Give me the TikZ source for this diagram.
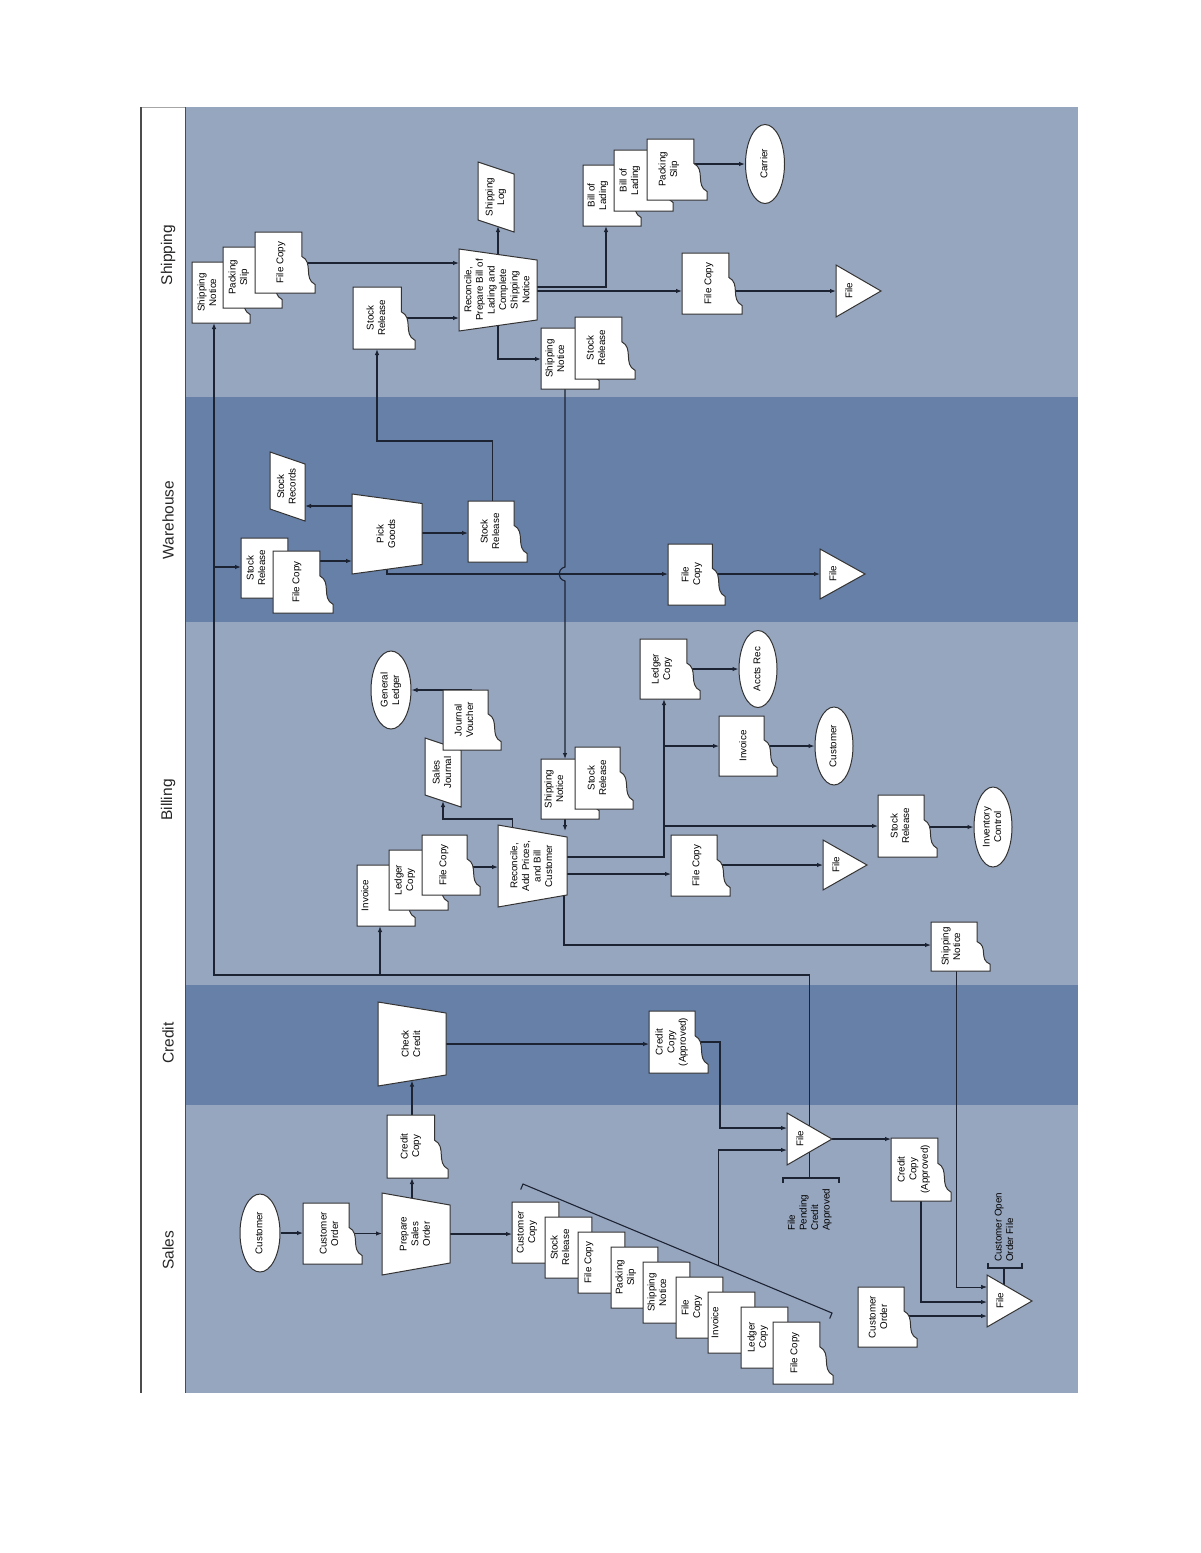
\documentclass[tikz,border=0pt]{standalone}
\usepackage{fontspec}
\setmainfont{Liberation Sans}
\usepackage{graphicx}
\usetikzlibrary{arrows.meta,shapes.geometric,calc}
\pgfdeclarelayer{lanes}\pgfdeclarelayer{conn}\pgfsetlayers{lanes,conn,main}
\definecolor{lightlane}{HTML}{97A6BF}
\definecolor{darklane}{HTML}{6780A7}
\definecolor{linec}{HTML}{1C2333}
\definecolor{edgec}{HTML}{333333}
\tikzset{
 shapeline/.style={draw=edgec, line width=1pt, fill=white},
 box/.style={draw=none, inner sep=0pt, outer sep=0pt, rectangle},
 txt/.style={inner sep=0pt, font=\fontsize{9.8}{11.6}\selectfont, text=black},
 arr/.style={draw=linec, line width=1.1pt, -{Latex[length=6pt,width=4.5pt]}},
 plain/.style={draw=linec, line width=1.1pt},
 thinarr/.style={arr, line width=0.7pt},
 lanelbl/.style={inner sep=0pt, font=\fontsize{15.5}{17}\selectfont, text=black!85},
 term/.style={ellipse, draw=edgec, line width=1pt, fill=white, inner sep=0pt, font=\fontsize{9.8}{11.6}\selectfont},
}
\newcommand\R[1]{\rotatebox{90}{\begin{tabular}{@{}c@{}}#1\end{tabular}}}
\newcommand\RL[1]{\rotatebox{90}{\begin{tabular}{@{}l@{}}#1\end{tabular}}}
% document: name, left, top, width, height, text x offset, text
\newcommand\docsh[7]{%
 \filldraw[shapeline] (#2,#3) -- ({#2+0.78*#4},#3) -- ({#2+0.78*#4},{#3+0.4*#5}) .. controls ({#2+0.98*#4},{#3+0.5*#5}) and ({#2+0.8*#4},{#3+0.76*#5}) .. ({#2+#4},{#3+0.86*#5}) -- ({#2+#4},{#3+#5}) -- (#2,{#3+#5}) -- cycle;
 \node[box, minimum width=#4pt, minimum height=#5pt] (#1) at ({#2+#4/2},{#3+#5/2}) {};
 \node[txt] (#1-t) at ({#2+#6},{#3+#5/2}) {\R{#7}};
}
% manual operation: name, cx, cy, width, left height, right height, text
\newcommand\trapsh[7]{%
 \filldraw[shapeline] ({#2-#4/2},{#3-#5/2}) -- ({#2+#4/2},{#3-#6/2}) -- ({#2+#4/2},{#3+#6/2}) -- ({#2-#4/2},{#3+#5/2}) -- cycle;
 \pgfmathsetmacro\trmh{(#5+#6)/2}
 \node[box, minimum width=#4pt, minimum height=\trmh pt] (#1) at (#2,#3) {};
 \node[txt] (#1-t) at (#2,#3) {\R{#7}};
}
% journal: name, left, top, width, height, drop, text
\newcommand\parash[7]{%
 \filldraw[shapeline] (#2,#3) -- ({#2+#4},{#3+#6}) -- ({#2+#4},{#3+#5+#6}) -- (#2,{#3+#5}) -- cycle;
 \node[box, minimum width=#4pt, minimum height=#5pt] (#1) at ({#2+#4/2},{#3+(#5+#6)/2}) {};
 \node[txt] (#1-t) at ({#2+#4/2},{#3+(#5+#6)/2}) {\R{#7}};
}
% file: name, left, top, width, height
\newcommand\trish[5]{%
 \filldraw[shapeline] (#2,#3) -- ({#2+#4},{#3+#5/2}) -- (#2,{#3+#5}) -- cycle;
 \node[box, minimum width=#4pt, minimum height=#5pt] (#1) at ({#2+#4/2},{#3+#5/2}) {};
 \node[txt] (#1-t) at ({#2+14},{#3+#5/2}) {\R{File}};
}
\begin{document}
\begin{tikzpicture}[x=1pt,y=-1pt]
\useasboundingbox (0,0) rectangle (1200,1553);
\begin{pgfonlayer}{lanes}
\fill[white] (0,0) rectangle (1200,1553);
\fill[lightlane] (185,107) rectangle (1078,397);
\fill[darklane] (185,397) rectangle (1078,622);
\fill[lightlane] (185,622) rectangle (1078,985);
\fill[darklane] (185,985) rectangle (1078,1105);
\fill[lightlane] (185,1105) rectangle (1078,1393);
\draw[black!35, line width=0.8pt] (141,107) -- (185,107);
\draw[black!70, line width=1.4pt] (141,107) -- (141,1393);
\draw[black!70, line width=0.8pt] (185,107) -- (185,1393);
\end{pgfonlayer}

% lane labels
\node[lanelbl] (lShip) at (168,255) {\rotatebox{90}{Shipping}};
\node[lanelbl] (lWare) at (168,520) {\rotatebox{90}{Warehouse}};
\node[lanelbl] (lBill) at (168,800) {\rotatebox{90}{Billing}};
\node[lanelbl] (lCred) at (168,1043) {\rotatebox{90}{Credit}};
\node[lanelbl] (lSale) at (168,1250) {\rotatebox{90}{Sales}};

% ---------------- Shipping
\docsh{sSN}{192}{262}{58}{61}{16}{Shipping\\Notice}
\docsh{sPS}{223}{247}{59}{61}{16}{Packing\\Slip}
\docsh{sFC}{255}{232}{60}{61}{26}{File Copy}
\docsh{sSR}{353}{287}{62}{62}{24}{Stock\\Release}
\trapsh{sRec}{498}{290}{78}{82}{60}{Reconcile,\\Prepare Bill of\\Lading and\\Complete\\Shipping\\Notice}
\parash{sLog}{478}{162}{36}{58}{12}{Shipping\\Log}
\docsh{sBL1}{583}{165}{58}{61}{15}{Bill of\\Lading}
\docsh{sBL2}{614}{150}{59}{61}{16}{Bill of\\Lading}
\docsh{sPS2}{647}{139}{60}{61}{22}{Packing\\Slip}
\node[term, minimum width=39pt, minimum height=79pt] (carrier) at (765,164) {\R{Carrier}};
\docsh{sFC2}{682}{253}{60}{61}{27}{File Copy}
\trish{sFile}{836}{265}{45}{52}
\docsh{sSN2}{541}{328}{58}{61}{15}{Shipping\\Notice}
\docsh{sSR2}{575}{317}{60}{62}{22}{Stock\\Release}

% ---------------- Warehouse
\docsh{wSR}{241}{538}{60}{60}{16}{Stock\\Release}
\docsh{wFC}{273}{551}{60}{62}{24}{File Copy}
\parash{wRec}{270}{452}{35}{57}{12}{Stock\\Records}
\trapsh{wPick}{387}{534}{70}{80}{61}{Pick\\Goods}
\docsh{wSR2}{468}{501}{59}{61}{23}{Stock\\Release}
\docsh{wFC2}{668}{544}{57}{61}{24}{File\\Copy}
\trish{wFile}{820}{549}{45}{50}

% ---------------- Billing
\docsh{bSN}{541}{759}{58}{60}{14}{Shipping\\Notice}
\docsh{bSR}{575}{747}{58}{62}{23}{Stock\\Release}
\docsh{bInv}{357}{865}{58}{61}{9}{Invoice}
\docsh{bLC}{389}{850}{59}{60}{16}{Ledger\\Copy}
\docsh{bFC}{422}{835}{58}{60}{22}{File Copy}
\trapsh{bRec}{532.5}{866}{69}{82}{58}{Reconcile,\\Add Prices,\\and Bill\\Customer}
\parash{bSJ}{425}{738}{36}{57}{12}{Sales\\Journal}
\docsh{bJV}{443}{690}{58}{60}{22}{Journal\\Voucher}
\node[term, minimum width=40pt, minimum height=78pt] (gl) at (391,690) {\R{General\\Ledger}};
\docsh{bLC2}{640}{639}{60}{60}{22}{Ledger\\Copy}
\node[term, minimum width=38pt, minimum height=77pt] (ar) at (758,669) {\R{Accts Rec}};
\docsh{bInv2}{719}{716}{58}{60}{25}{Invoice}
\node[term, minimum width=38pt, minimum height=78pt] (cust2) at (834,746) {\R{Customer}};
\docsh{bSR2}{878}{795}{59}{62}{23}{Stock\\Release}
\node[term, minimum width=38pt, minimum height=80pt] (ic) at (993,827) {\R{Inventory\\Control}};
\docsh{bFC2}{671}{835}{59}{61}{26}{File Copy}
\trish{bFile}{823}{840}{44}{50}
\docsh{bSN2}{931}{922}{59}{49}{21}{Shipping\\Notice}

% ---------------- Credit
\trapsh{cCheck}{412}{1044}{68}{84}{62}{Check\\Credit}
\docsh{cCCA}{649}{1011}{59}{62}{23}{Credit\\Copy\\(Approved)}

% ---------------- Sales
\node[term, minimum width=40pt, minimum height=78pt] (cust1) at (260,1233) {\R{Customer}};
\docsh{aCO}{303}{1203}{59}{61}{27}{Customer\\Order}
\trapsh{aPSO}{416}{1234}{68}{82}{58}{Prepare\\Sales\\Order}
\docsh{aCC}{387}{1115}{61}{63}{24}{Credit\\Copy}
\docsh{aD1}{512}{1202}{60}{61}{15}{Customer\\Copy}
\docsh{aD2}{545}{1217}{60}{61}{16}{Stock\\Release}
\docsh{aD3}{578}{1232}{60}{61}{11}{File Copy}
\docsh{aD4}{611}{1247}{60}{61}{15}{Packing\\Slip}
\docsh{aD5}{643}{1262}{60}{61}{15}{Shipping\\Notice}
\docsh{aD6}{676}{1277}{60}{61}{16}{File\\Copy}
\docsh{aD7}{708}{1292}{60}{61}{8}{Invoice}
\docsh{aD8}{741}{1307}{60}{61}{17}{Ledger\\Copy}
\docsh{aD9}{773}{1322}{60}{62}{22}{File Copy}
\trish{pFile}{787}{1113}{45}{52}
\docsh{aCCA}{891}{1138}{60}{63}{23}{Credit\\Copy\\(Approved)}
\docsh{aCO2}{858}{1287}{59}{60}{21}{Customer\\Order}
\trish{oFile}{987}{1275}{45}{52}
\node[txt, anchor=south] (pLbl) at (810,1231) {\RL{File\\Pending\\Credit\\Approved}};
\node[txt, anchor=south] (oLbl) at (1005,1262) {\RL{Customer Open\\Order File}};

% ---------------- connectors
\begin{pgfonlayer}{conn}
\coordinate (j214) at (214,975);
\coordinate (pfb) at (pFile.center |- 0,1178);
\draw[arr] (pfb) |- (j214) -- ([xshift=-7pt]sSN.south);
\draw[arr] (j214 |- 0,567) -- (wSR.west |- 0,567);
\draw[arr] (j214 -| 380,0) -- (bInv.south -| 380,0);
% shipping
\draw[arr] (sFC.center |- 0,263) -- (sRec.west |- 0,263);
\draw[arr] (sSR.center |- 0,318) -- (sRec.west |- 0,318);
\draw[arr] ([xshift=-5pt]wSR2.center) |- (377,441) -- (sSR.south -| 377,0);
\draw[arr] (sRec.center) -- (sRec.center |- sLog.south);
\draw[arr] (sRec.center |- 0,287) -| (sBL1.south -| 606,0);
\draw[arr] (sRec.center |- 0,291) -- (sFC2.west |- 0,291);
\draw[arr] (sRec.center) |- (sSN2.west |- 0,359);
\draw[arr] (sPS2.center |- carrier.west) -- (carrier.west);
\draw[arr] (sFC2.center |- sFile.west) -- (sFile.west);
% warehouse
\draw[arr] (wFC.center |- 0,561) -- (wPick.west |- 0,561);
\draw[arr] (wPick.center |- 0,506) -- (wRec.east |- 0,506);
\draw[arr] (wPick.center |- 0,533) -- (wSR2.west |- 0,533);
\draw[arr] (wPick.center) |- (wFC2.west |- 0,574);
\draw[arr] (wFC2.center |- wFile.west) -- (wFile.west);
\coordinate (hopA) at (565,567);
\coordinate (hopB) at (565,581);
\draw[arr] (sSN2.south -| 565,0) -- (hopA) .. controls (557,569) and (557,579) .. (hopB) -- (bSN.north -| 565,0);
% billing
\draw[arr] (bSN.south -| 565,0) -- (bRec.north -| 565,0);
\draw[arr] (bFC.center |- 0,867) -- (bRec.west |- 0,867);
\draw[arr] ([xshift=-20pt]bRec.center) |- (bSJ.south |- 0,819) -- (bSJ.south);
\draw[arr] (bJV.north) -- (gl.east);
\coordinate (jB) at (664,857);
\draw[arr] (bRec.center |- jB) -| (bLC2.south -| jB);
\draw[arr] (jB |- 0,746) -- (bInv2.west |- 0,746);
\draw[arr] (jB |- 0,826) -- (bSR2.west |- 0,826);
\draw[arr] (bRec.center |- 0,874) -- (bFC2.west |- 0,874);
\draw[arr] (bFC2.center |- bFile.west) -- (bFile.west);
\draw[arr] (bLC2.center |- ar.west) -- (ar.west);
\draw[arr] (bInv2.center |- cust2.west) -- (cust2.west);
\draw[arr] (bSR2.center |- ic.west) -- (ic.west);
\draw[arr] (bRec.center -| 564,0) |- (bSN2.west |- 0,945);
\draw[thinarr] (bSN2.south -| 956,0) |- (oFile.west |- 0,1287);
% credit
\draw[arr] (aCC.north -| 412,0) -- (cCheck.south -| 412,0);
\draw[arr] (cCheck.center) -- (cCCA.west |- cCheck.center);
\coordinate (k1) at (720,1128);
\draw[arr] (cCCA.center) -| (k1) -- (pFile.west |- k1);
\coordinate (brA) at (523,1184);
\coordinate (brB) at (832,1313);
\draw[plain] ($(brA)+(-2.3,5.5)$) -- (brA) -- (brB) -- ($(brB)+(-2.3,5.5)$);
\coordinate (k2) at ($(brA)!0.634!(brB)$);
\draw[arr] (k2) |- (pFile.west |- 0,1150);
\draw[arr] (pFile.east) -- (aCCA.west |- pFile.east);
\draw[plain] ([xshift=-26.5pt,yshift=-5pt]pfb) -- ([xshift=-26.5pt]pfb) -- ([xshift=29.5pt]pfb) -- ([xshift=29.5pt,yshift=-5pt]pfb);
\draw[arr] (aCCA.center) |- (oFile.west |- 0,1302);
\draw[arr] (aCO2.center |- 0,1316) -- (oFile.west |- 0,1316);
\coordinate (ofb) at (1004,1268);
\draw[plain] (988,1263) -- (988,1268) -- (1022,1268) -- (1022,1263);
\draw[plain] (ofb) -- (oFile.center -| ofb);
% sales
\draw[arr] (cust1.east) -- (aCO.west |- cust1.east);
\draw[arr] (aCO.center) -- (aPSO.west |- aCO.center);
\draw[arr] (aPSO.center -| 412,0) -- (aCC.south -| 412,0);
\draw[arr] (aPSO.center) -- (aD1.west |- aPSO.center);
\end{pgfonlayer}
\end{tikzpicture}
\end{document}
